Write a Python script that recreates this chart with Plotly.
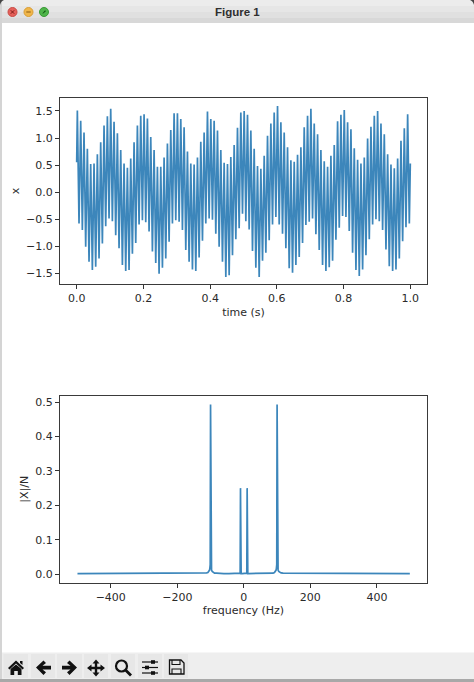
import plotly.graph_objects as go
from plotly.subplots import make_subplots

# values, one peak and one trough per 100 Hz cycle
first_sample = 0.55
last_sample = 0.53
peaks = [1.51, 1.32, 1.10, 0.80, 0.52, 0.53, 0.70, 0.92, 1.23, 1.40,
         1.54, 1.30, 1.09, 0.78, 0.53, 0.45, 0.62, 0.92, 1.23, 1.41,
         1.44, 1.36, 1.02, 0.78, 0.47, 0.47, 0.64, 0.90, 1.15, 1.46,
         1.46, 1.35, 1.20, 0.75, 0.53, 0.51, 0.64, 0.93, 1.10, 1.49,
         1.35, 1.32, 1.14, 0.78, 0.54, 0.52, 0.65, 0.87, 1.19, 1.47,
         1.50, 1.43, 1.14, 0.80, 0.48, 0.43, 0.67, 1.04, 1.27, 1.47,
         1.59, 1.29, 1.10, 0.83, 0.59, 0.56, 0.69, 0.83, 1.20, 1.41,
         1.54, 1.27, 1.07, 0.78, 0.57, 0.47, 0.67, 0.87, 1.31, 1.43,
         1.52, 1.29, 1.16, 0.81, 0.60, 0.53, 0.64, 0.99, 1.21, 1.41,
         1.50, 1.27, 1.07, 0.70, 0.51, 0.44, 0.62, 0.95, 1.18, 1.44]
troughs = [-0.58, -0.70, -1.01, -1.29, -1.44, -1.38, -1.23, -0.95, -0.63, -0.49,
           -0.54, -0.80, -1.04, -1.35, -1.46, -1.44, -1.14, -0.94, -0.60, -0.52,
           -0.56, -0.73, -1.10, -1.31, -1.51, -1.40, -1.23, -0.92, -0.58, -0.52,
           -0.55, -0.70, -1.07, -1.29, -1.43, -1.46, -1.21, -0.90, -0.58, -0.49,
           -0.51, -0.77, -1.01, -1.29, -1.57, -1.54, -1.17, -0.87, -0.67, -0.40,
           -0.54, -0.69, -1.09, -1.40, -1.57, -1.27, -1.12, -0.89, -0.60, -0.46,
           -0.60, -0.77, -1.04, -1.41, -1.49, -1.35, -1.20, -0.94, -0.61, -0.55,
           -0.49, -0.78, -1.07, -1.35, -1.46, -1.39, -1.27, -0.88, -0.66, -0.44,
           -0.46, -0.72, -1.12, -1.44, -1.55, -1.43, -1.17, -0.87, -0.60, -0.50,
           -0.54, -0.70, -1.06, -1.37, -1.46, -1.43, -1.23, -0.91, -0.65, -0.58]

freqs = [-500, -470, -440, -410, -380, -350, -325, -320, -315, -290, -260, -230, -200,
         -170, -150, -135, -125, -118, -112, -108, -105, -103, -102, -101, -100,
         -99, -98, -97, -95, -92, -88, -82, -75, -60, -45, -30, -20, -14, -12, -11,
         -10, -9, -8, -5, 0, 5, 8, 9, 10, 11, 12, 14, 20, 30, 45, 60, 75, 82, 88, 92,
         95, 97, 98, 99, 100, 101, 102, 103, 105, 108, 112, 118, 125, 135, 150, 170,
         200, 230, 260, 290, 315, 320, 325, 350, 380, 410, 440, 470, 499]
mags = [0.002, 0.002, 0.002, 0.002, 0.002, 0.002, 0.002, 0.004, 0.002, 0.002, 0.002, 0.002, 0.002,
        0.002, 0.002, 0.002, 0.003, 0.003, 0.004, 0.005, 0.008, 0.012, 0.018, 0.028, 0.493,
        0.028, 0.018, 0.012, 0.008, 0.005, 0.003, 0.003, 0.002, 0.002, 0.002, 0.002, 0.002, 0.002, 0.002, 0.003,
        0.250, 0.003, 0.002, 0.002, 0.002, 0.002, 0.002, 0.003, 0.250, 0.003, 0.002, 0.002, 0.002, 0.002, 0.002, 0.002, 0.002, 0.003, 0.003, 0.005,
        0.008, 0.012, 0.018, 0.028, 0.493, 0.028, 0.018, 0.012, 0.008, 0.005, 0.004, 0.003, 0.003, 0.002, 0.002, 0.002,
        0.002, 0.002, 0.002, 0.002, 0.002, 0.004, 0.002, 0.002, 0.002, 0.002, 0.002, 0.002, 0.002]

time_ticks = [0.0, 0.2, 0.4, 0.6, 0.8, 1.0]
x_ticks = [-1.5, -1.0, -0.5, 0.0, 0.5, 1.0, 1.5]
freq_ticks = [-400, -200, 0, 200, 400]
mag_ticks = [0.0, 0.1, 0.2, 0.3, 0.4, 0.5]

W, H = 474, 682
LINE = "#3c86bb"
FONT = dict(family="DejaVu Sans", size=11, color="#2a2a2a")

# sample times of the turning points
t = [0.0]
x = [first_sample]
for i in range(len(peaks)):
    t += [0.002 + i * 0.01, 0.007 + i * 0.01]
    x += [peaks[i], troughs[i]]
t.append(1.0)
x.append(last_sample)

fig = make_subplots(rows=2, cols=1)
fig.add_trace(go.Scatter(x=t, y=x, mode="lines", line=dict(color=LINE, width=1.7), showlegend=False), row=1, col=1)
fig.add_trace(go.Scatter(x=freqs, y=mags, mode="lines", line=dict(color=LINE, width=1.7), showlegend=False), row=2, col=1)

axis_style = dict(showgrid=False, zeroline=False, showline=True, mirror=True, linecolor="#3a3a3a",
                  linewidth=1, ticks="outside", ticklen=4, tickwidth=1, tickcolor="#333333",
                  tickfont=FONT, title_font=FONT)

fig.update_xaxes(axis_style)
fig.update_yaxes(axis_style)

def dom_x(a, b):
    return [a / W, b / W]

def dom_y(top, bottom):
    return [1 - bottom / H, 1 - top / H]

fig.update_layout(
    xaxis=dict(domain=dom_x(60, 427), range=[-0.05, 1.05], tickvals=time_ticks, tickformat=".1f",
               title=dict(text="time (s)", standoff=4)),
    yaxis=dict(domain=dom_y(98, 284), range=[-1.70, 1.74], tickvals=x_ticks, tickformat=".1f",
               title=dict(text="x", standoff=4)),
    xaxis2=dict(domain=dom_x(60, 427), range=[-552.5, 550.6], tickvals=freq_ticks,
                title=dict(text="frequency (Hz)", standoff=3)),
    yaxis2=dict(domain=dom_y(396, 582.5), range=[-0.0240, 0.5175], tickvals=mag_ticks, tickformat=".1f",
                title=dict(text="|X|/N", standoff=4)),
    # hidden axes spanning the window, used to draw the title bar and toolbar in pixels
    xaxis3=dict(domain=[0, 1], range=[0, W], visible=False, fixedrange=True, anchor="y3"),
    yaxis3=dict(domain=[0, 1], range=[H, 0], visible=False, fixedrange=True, anchor="x3"),
    width=W, height=H, margin=dict(l=0, r=0, t=0, b=0),
    paper_bgcolor="white", plot_bgcolor="rgba(0,0,0,0)", showlegend=False,
)
# an empty trace so the pixel axes exist
fig.add_trace(go.Scatter(x=[], y=[], xaxis="x3", yaxis="y3", showlegend=False))

def rect(x0, y0, x1, y1, color):
    fig.add_shape(type="rect", xref="x3", yref="y3", x0=x0, y0=y0, x1=x1, y1=y1,
                  fillcolor=color, line_width=0, layer="above")

def path(d, color="#111111", width=0, fill=None):
    fig.add_shape(type="path", xref="x3", yref="y3", path=d, fillcolor=fill if fill else "rgba(0,0,0,0)",
                  line=dict(color=color, width=width), layer="above")

def disc(cx, cy, r, color, edge=None):
    fig.add_shape(type="circle", xref="x3", yref="y3", x0=cx - r, y0=cy - r, x1=cx + r, y1=cy + r,
                  fillcolor=color, line=dict(color=edge or color, width=1), layer="above")

# window edges
rect(0, 0, 2, H, "#d4d4d4")
rect(0, 679, W, H, "#a8a8a8")

# title bar
for y0, y1, c in [(0, 6, "#ececec"), (6, 12, "#e6e6e6"), (12, 18, "#e0e0e0"), (18, 23, "#d8d8d8")]:
    rect(2, y0, W, y1, c)
path("M0 0 L4 0 Q1 1 0 5 Z", fill="#444444")
path("M474 0 L470 0 Q473 1 474 5 Z", fill="#444444")
disc(12.5, 12, 4.5, "#e5605a", "#c94a43")
disc(28.5, 12, 4.5, "#f0b64a", "#d89d35")
disc(44, 12, 4.5, "#4fb54a", "#3a9a36")
path("M10.8 10.3 L14.2 13.7 M14.2 10.3 L10.8 13.7", color="#7a1a14", width=1)
path("M26.3 12 L30.7 12", color="#8a5a10", width=1)
path("M42.3 13.4 L44.8 10.6 L45.7 10.6 L45.7 11.4 L43.2 13.4 Z", fill="#145a14")
fig.add_annotation(xref="x3", yref="y3", x=237, y=11.5, text="<b>Figure 1</b>", showarrow=False,
                   font=dict(family="Liberation Sans", size=11.5, color="#2f2f2f"))

# toolbar
rect(2, 652.5, W, 679, "#eeeeee")
for x0, x1 in [(3.5, 28), (31, 55), (57, 82), (84, 108), (111, 135), (138, 162), (164, 188)]:
    rect(x0, 654, x1, 678, "#e7e7e7")

# home
path("M8 668 L16 660.5 L24 668 L22.5 669.5 L16 663.5 L9.5 669.5 Z", fill="#111111")
path("M20 661 L22.5 661 L22.5 665 L20 663 Z", fill="#111111")
path("M10.5 669 L16 664.5 L21.5 669 L21.5 675 L17.8 675 L17.8 671 L14.2 671 L14.2 675 L10.5 675 Z", fill="#111111")
# back, forward
path("M36 667.5 L43.5 660.5 L46 663 L42.5 665.8 L51 665.8 L51 669.4 L42.5 669.4 L46 672.3 L43.5 675 Z", fill="#111111")
path("M77 667.5 L69.5 660.5 L67 663 L70.5 665.8 L62 665.8 L62 669.4 L70.5 669.4 L67 672.3 L69.5 675 Z", fill="#111111")
# pan
path("M96 659.5 L99.5 663.5 L97.2 663.5 L97.2 666.8 L100.5 666.8 L100.5 664.5 L105 668 L100.5 671.5 L100.5 669.2 "
     "L97.2 669.2 L97.2 672.5 L99.5 672.5 L96 676.5 L92.5 672.5 L94.8 672.5 L94.8 669.2 L91.5 669.2 L91.5 671.5 "
     "L87 668 L91.5 664.5 L91.5 666.8 L94.8 666.8 L94.8 663.5 L92.5 663.5 Z", fill="#111111")
# zoom
fig.add_shape(type="circle", xref="x3", yref="y3", x0=116, y0=660.5, x1=127, y1=671.5,
              fillcolor="rgba(0,0,0,0)", line=dict(color="#111111", width=2.2), layer="above")
path("M125.5 670 L131 675.5", color="#111111", width=2.8)
# subplots
for ly, kx in [(662, 153), (667.5, 147), (673, 153)]:
    path(f"M142 {ly} L158 {ly}", color="#111111", width=1.2)
    rect(kx - 2, ly - 1.8, kx + 2, ly + 1.8, "#111111")
# save
path("M169.5 660 L181 660 L184 663 L184 674 L169.5 674 Z", color="#111111", width=1.3)
path("M172 660 L172 664.5 L180 664.5 L180 660", color="#111111", width=1.1)
path("M172 674 L172 669 L181 669 L181 674", color="#111111", width=1.1)

fig.write_html("out.html", post_script="document.body.style.margin='0';", config=dict(displayModeBar=False))
